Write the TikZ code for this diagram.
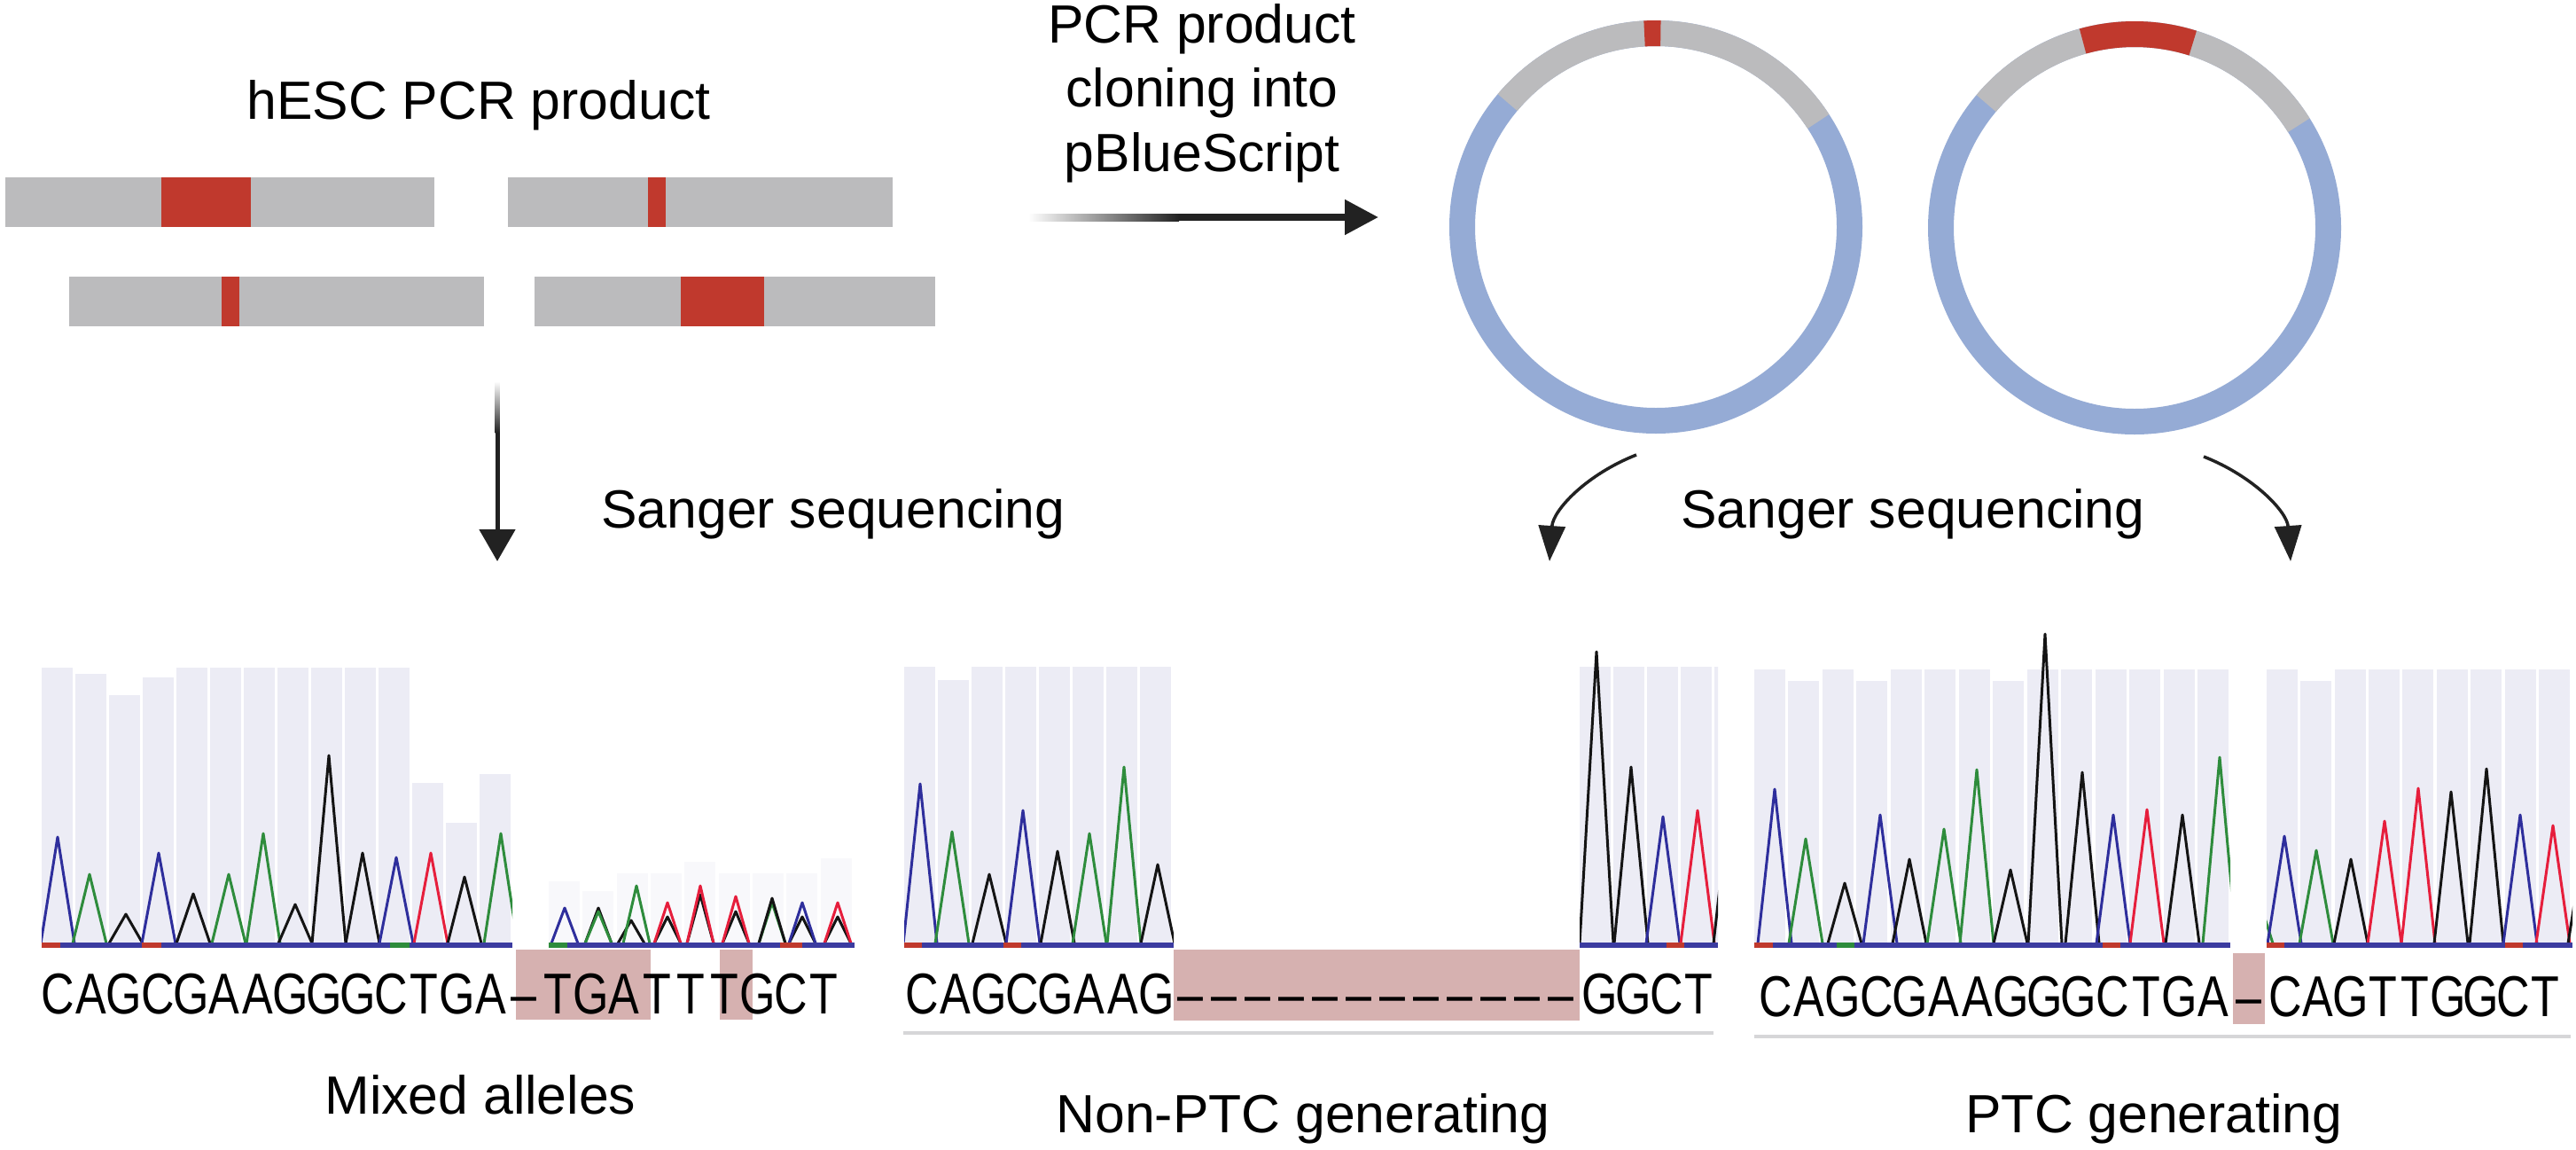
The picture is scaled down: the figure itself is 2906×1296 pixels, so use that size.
\documentclass[tikz,border=0pt]{standalone}
\usepackage{fontspec}
\setmainfont{Liberation Sans}
\usetikzlibrary{calc,arrows.meta}

\definecolor{bargray}{HTML}{BBBBBD}
\definecolor{insred}{HTML}{C0392D}
\definecolor{vecblue}{HTML}{95ABD5}
\definecolor{lanebg}{HTML}{ECECF5}
\definecolor{hilite}{HTML}{D6B1B0}
\definecolor{colC}{HTML}{2E2E9C}
\definecolor{colA}{HTML}{2E8C3C}
\definecolor{colG}{HTML}{141414}
\definecolor{colT}{HTML}{E61E3C}
\definecolor{baseln}{HTML}{3B3BA0}
\definecolor{framegray}{HTML}{D6D6D8}
\definecolor{arrowblack}{HTML}{222222}

\tikzset{
  lbl/.style={font=\fontsize{60.7}{72.5}\selectfont, anchor=base, inner sep=0pt},
  seq/.style={font=\fontsize{65}{70}\selectfont, anchor=base, inner sep=0pt, xscale=0.8},
  peak/.style={line width=3pt, line join=round},
  ring/.style={line width=29pt},
  baseband/.style={baseln, line width=6pt},
}

\begin{document}
\begin{tikzpicture}[x=1pt,y=-1pt]

\fill[white, use as bounding box] (0,0) rectangle (2906,1296);

%PCR products
\node[lbl] (hesc) at (540,134) {hESC PCR product};
\foreach \xa/\xb/\ya/\ra/\rb in {6/490/200/182/283, 573/1007/200/731/751, 78/546/312/250/270, 603/1055/312/768/862}
{
	\fill[bargray] (\xa,\ya) rectangle (\xb,\ya+56);
	\fill[insred] (\ra,\ya) rectangle (\rb,\ya+56);
}

%cloning arrow
\node[lbl, align=center] (clone) at (1356,193) {PCR product\\cloning into\\pBlueScript};
\coordinate (clonefrom) at (1160,245);
\coordinate (clonemid) at (1330,245);
\coordinate (cloneto) at (1555,245);
\shade[left color=white, right color=arrowblack] ($(clonefrom)+(0,-4)$) rectangle ($(clonemid)+(0,4)$);
\draw[arrowblack, line width=8pt, -{Triangle[length=38pt,width=38pt]}] (clonemid) -- (cloneto);

%plasmids
\coordinate (pla) at (1868,256);
\coordinate (plb) at (2408,257);
\draw[ring, vecblue] (pla) circle[radius=218.5];
\draw[ring, bargray] (pla) ++(-33:218.5) arc[start angle=-33, end angle=-140, radius=218.5];
\draw[ring, insred] (pla) ++(-88.6:218.5) arc[start angle=-88.6, end angle=-93.4, radius=218.5];
\draw[ring, vecblue] (plb) circle[radius=218.5];
\draw[ring, bargray] (plb) ++(-32:218.5) arc[start angle=-32, end angle=-140, radius=218.5];
\draw[ring, insred] (plb) ++(-72.5:218.5) arc[start angle=-72.5, end angle=-105.5, radius=218.5];

%sequencing arrows
\coordinate (downfrom) at (561,430);
\coordinate (downmid) at (561,488);
\coordinate (downto) at (561,633);
\shade[top color=white, bottom color=arrowblack] ($(downfrom)+(-2.5,0)$) rectangle ($(downmid)+(2.5,0)$);
\draw[arrowblack, line width=5pt, -{Triangle[length=36pt,width=40pt]}] (downmid) -- (downto);
\coordinate (curlafrom) at (1846,513);
\coordinate (curlato) at (1748,633);
\coordinate (curlbfrom) at (2486,515);
\coordinate (curlbto) at (2584,633);
\draw[arrowblack, line width=3.5pt, -{Triangle[length=40pt,width=30pt]}] (curlafrom) .. controls (1790,535) and (1752,575) .. (curlato);
\draw[arrowblack, line width=3.5pt, -{Triangle[length=40pt,width=30pt]}] (curlbfrom) .. controls (2542,537) and (2580,577) .. (curlbto);
\node[lbl] (sangera) at (940,595) {Sanger sequencing};
\node[lbl] (sangerb) at (2158,595) {Sanger sequencing};

%mixed alleles trace
\begin{scope}
\clip (47,690) rectangle (578,1068);
\foreach \x/\t in {47/753, 85/760, 123/784, 161/764, 199/753, 237/753, 275/753, 313/753, 351/753, 389/753, 427/753, 465/883, 503/928, 541/873}
	\fill[lanebg] (\x,\t) rectangle (\x+35,1063);
\foreach \x/\h/\c in {65/120/colC, 101/78/colA, 142/33/colG, 179/102/colC, 218/56/colG, 258/78/colA, 297/124/colA, 333/44/colG, 371/212/colG, 409/102/colG, 447/97/colC, 486/102/colT, 524/75/colG, 565/124/colA}
	\draw[peak,\c] (\x-19,1064) -- (\x,1064-\h) -- (\x+19,1064);
\end{scope}
\begin{scope}
\clip (619,690) rectangle (964,1068);
\foreach \x/\t in {619/994, 657/1005, 696/985, 734/985, 772/972, 811/985, 849/985, 887/985, 926/968}
	\fill[lanebg!35] (\x,\t) rectangle (\x+35,1063);
\foreach \x/\h/\c in {675/40/colG, 712/26/colG, 753/30/colG, 790/55/colG, 830/36/colG, 871/46/colA, 905/30/colG, 945/30/colG}
	\draw[peak,\c] (\x-15,1064) -- (\x,1064-\h) -- (\x+15,1064);
\foreach \x/\h/\c in {637/40/colC, 675/36/colA, 718/65/colA, 753/46/colT, 790/65/colT, 830/53/colT, 871/51/colG, 905/46/colC, 945/46/colT}
	\draw[peak,\c] (\x-15,1064) -- (\x,1064-\h) -- (\x+15,1064);
\end{scope}
\draw[baseband] (47,1066) -- (578,1066);
\draw[baseband] (619,1066) -- (964,1066);
\foreach \xa/\xb/\c in {47/68/insred, 160/182/insred, 440/462/colA, 619/640/colA, 880/905/insred}
	\draw[\c, line width=6pt] (\xa,1066) -- (\xb,1066);
\fill[hilite] (582,1071) rectangle (734,1150);
\fill[hilite] (812,1071) rectangle (849,1150);
\foreach \b [count=\i from 0] in {C,A,G,C,G,A,A,G,G,G,C,T,G,A,--,T,G,A,T,T,T,G,C,T}
	\node[seq] (mix\i) at (65+37.6*\i,1143) {\b};
\node[lbl] (mixed) at (542,1256) {Mixed alleles};

%non-PTC trace
\begin{scope}
\clip (1020,690) rectangle (1324,1068);
\foreach \x/\t in {1020/752, 1058/767, 1096/752, 1134/752, 1172/752, 1210/752, 1248/752, 1286/752}
	\fill[lanebg] (\x,\t) rectangle (\x+35,1063);
\foreach \x/\h/\c in {1038/180/colC, 1074/126/colA, 1116/78/colG, 1154/150/colC, 1193/104/colG, 1229/124/colA, 1268/199/colA, 1306/89/colG}
	\draw[peak,\c] (\x-19,1064) -- (\x,1064-\h) -- (\x+19,1064);
\end{scope}
\begin{scope}
\clip (1782,690) rectangle (1938,1068);
\foreach \x/\t in {1782/752, 1820/752, 1858/752, 1896/752, 1934/752}
	\fill[lanebg] (\x,\t) rectangle (\x+35,1063);
\foreach \x/\h/\c in {1801/329/colG, 1840/199/colG, 1876/143/colC, 1915/150/colT, 1952/170/colG}
	\draw[peak,\c] (\x-19,1064) -- (\x,1064-\h) -- (\x+19,1064);
\end{scope}
\draw[baseband] (1020,1066) -- (1324,1066);
\draw[baseband] (1782,1066) -- (1938,1066);
\foreach \xa/\xb/\c in {1020/1040, 1132/1152, 1880/1900}
	\draw[insred, line width=6pt] (\xa,1066) -- (\xb,1066);
\fill[hilite] (1324,1071) rectangle (1782,1151);
\foreach \b [count=\i from 0] in {C,A,G,C,G,A,A,G}
	\node[seq] (npa\i) at (1040+37.8*\i,1143) {\b};
\foreach \i in {0,...,11}
	\node[seq] (npd\i) at (1343+38*\i,1143) {--};
\foreach \b/\x [count=\i from 0] in {G/1805,G/1843,C/1880,T/1916}
	\node[seq] (npb\i) at (\x,1143) {\b};
\draw[framegray, line width=4pt] (1019,1165) -- (1933,1165);
\node[lbl] (nonptc) at (1470,1277) {Non-PTC generating};

%PTC trace
\begin{scope}
\clip (1979,690) rectangle (2516,1068);
\foreach \x/\t in {1979/755, 2017/768, 2056/755, 2094/768, 2133/755, 2171/755, 2210/755, 2248/768, 2287/755, 2325/755, 2364/755, 2402/755, 2441/755, 2479/755}
	\fill[lanebg] (\x,\t) rectangle (\x+35,1063);
\foreach \x/\h/\c in {2002/174/colC, 2037/118/colA, 2081/68/colG, 2121/145/colC, 2154/95/colG, 2193/129/colA, 2230/196/colA, 2268/83/colG, 2307/349/colG, 2349/193/colG, 2384/145/colC, 2422/151/colT, 2462/145/colG, 2504/210/colA}
	\draw[peak,\c] (\x-19,1064) -- (\x,1064-\h) -- (\x+19,1064);
\end{scope}
\begin{scope}
\clip (2557,690) rectangle (2902,1068);
\foreach \x/\t in {2557/755, 2595/768, 2634/755, 2672/755, 2710/755, 2749/755, 2787/755, 2826/755, 2864/755}
	\fill[lanebg] (\x,\t) rectangle (\x+35,1063);
\foreach \x/\h/\c in {2545/60/colA, 2577/121/colC, 2613/105/colA, 2652/95/colG, 2690/138/colT, 2728/175/colT, 2765/171/colG, 2805/197/colG, 2843/145/colC, 2880/133/colT, 2916/120/colG}
	\draw[peak,\c] (\x-19,1064) -- (\x,1064-\h) -- (\x+19,1064);
\end{scope}
\draw[baseband] (1979,1066) -- (2516,1066);
\draw[baseband] (2557,1066) -- (2902,1066);
\foreach \xa/\xb/\c in {1979/2000/insred, 2072/2092/colA, 2372/2392/insred, 2557/2577/insred, 2826/2846/insred}
	\draw[\c, line width=6pt] (\xa,1066) -- (\xb,1066);
\fill[hilite] (2519,1075) rectangle (2555,1155);
\foreach \b [count=\i from 0] in {C,A,G,C,G,A,A,G,G,G,C,T,G,A}
	\node[seq] (pta\i) at (2003+38*\i,1146) {\b};
\node[seq] (ptd) at (2537,1146) {--};
\foreach \b [count=\i from 0] in {C,A,G,T,T,G,G,C,T}
	\node[seq] (ptb\i) at (2578+36.7*\i,1146) {\b};
\draw[framegray, line width=4pt] (1979,1169) -- (2900,1169);
\node[lbl] (ptc) at (2430,1277) {PTC generating};

\end{tikzpicture}
\end{document}
